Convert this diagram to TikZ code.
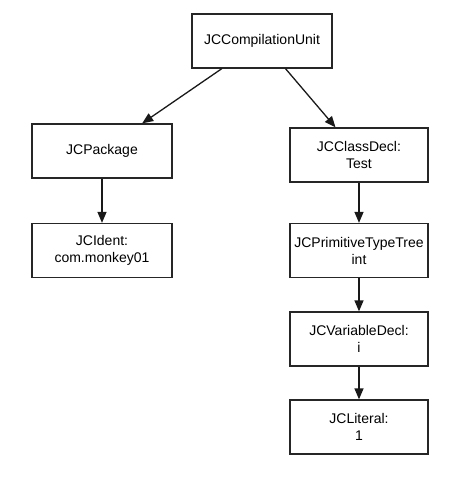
\documentclass[tikz,border=0pt]{standalone}
\usepackage{fontspec}
\setmainfont{Liberation Sans}
\usetikzlibrary{arrows.meta}
\begin{document}
\begin{tikzpicture}[x=1pt,y=-1pt,
  treebox/.style={draw=black!85,line width=1.3pt,minimum height=54pt,inner sep=0pt,align=center,
    font=\fontsize{14}{17}\selectfont},
  wide/.style={minimum width=140pt},
  narrow/.style={minimum width=138pt},
  link/.style={draw=black!90,line width=1.3pt,-{Triangle[length=11pt,width=9pt]}}]
\useasboundingbox (0,0) rectangle (474,489);
\node[treebox,wide] (cu) at (262,41) {JCCompilationUnit};
\node[treebox,wide] (pkg) at (102,151) {JCPackage};
\node[treebox,narrow] (cls) at (359,155) {JCClassDecl:\\Test};
\node[treebox,wide] (ident) at (102,250.5) {JCIdent:\\com.monkey01};
\node[treebox,narrow] (prim) at (359,250.5) {JCPrimitiveTypeTree\\int};
\node[treebox,narrow] (var) at (359,339) {JCVariableDecl:\\i};
\node[treebox,narrow] (lit) at (359,427) {JCLiteral:\\1};
\draw[link] (cu) -- (pkg);
\draw[link] (cu) -- (cls);
\draw[link] (pkg) -- (ident);
\draw[link] (cls) -- (prim);
\draw[link] (prim) -- (var);
\draw[link] (var) -- (lit);
\end{tikzpicture}
\end{document}
